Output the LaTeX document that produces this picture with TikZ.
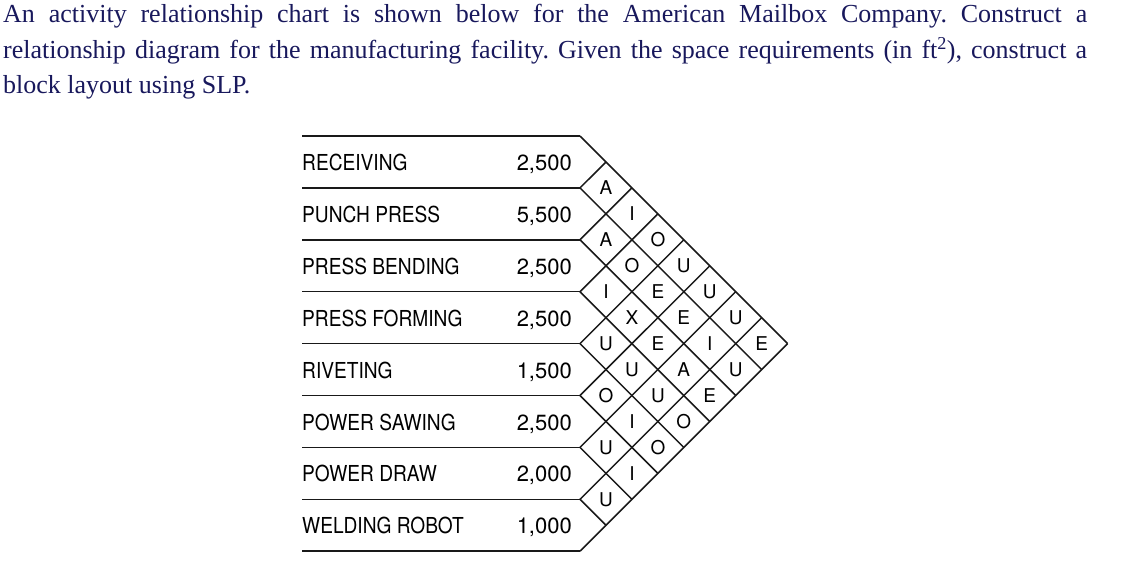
\documentclass[tikz,border=0pt]{standalone}
\usepackage{fontspec}
\usepackage{tikz}
\usetikzlibrary{positioning}
\newfontfamily\probfont{Liberation Serif}
\newfontfamily\actfont[FakeStretch=0.87]{TeX Gyre Heros}
\newfontfamily\relfont{TeX Gyre Heros}
\definecolor{ink}{RGB}{24,24,92}
\definecolor{rule}{RGB}{25,25,25}
\frenchspacing

\begin{document}
\begin{tikzpicture}[x=1pt,y=-1pt,
  probline/.style={anchor=base west,inner sep=0pt,text=ink,font=\probfont\fontsize{26}{30}\selectfont},
  actname/.style={anchor=base west,inner sep=0pt,font=\actfont\fontsize{22}{26}\selectfont},
  actarea/.style={anchor=base east,inner sep=0pt,font=\relfont\fontsize{22}{26}\selectfont},
  relcode/.style={inner sep=0pt,font=\relfont\fontsize{19}{22}\selectfont},
  grid/.style={draw=rule,line width=1.5pt}]
\useasboundingbox (0,0) rectangle (1127,572);
% Problem text
\node[probline] (line1) at (3,22.7) {\makebox[1084pt][s]{An activity relationship chart is shown below for the American Mailbox Company. Construct a}};
\node[probline] (line2) at (3,58.3) {\makebox[1084pt][s]{relationship diagram for the manufacturing facility. Given the space requirements (in ft\textsuperscript{2}), construct a}};
\node[probline] (line3) at (3,94) {block layout using SLP.};
% Rows
\draw[grid] (302,136.0) -- (580,136.0); % top line
\draw[grid] (302,187.9) -- (580,187.9);
\draw[grid] (302,239.8) -- (580,239.8);
\draw[grid] (302,291.7) -- (580,291.7);
\draw[grid] (302,343.6) -- (580,343.6);
\draw[grid] (302,395.5) -- (580,395.5);
\draw[grid] (302,447.4) -- (580,447.4);
\draw[grid] (302,499.3) -- (580,499.3);
\draw[grid] (302,551.2) -- (580,551.2); % bottom line
\node[actname] (recv) at (302,170.5) {RECEIVING};
\node[actarea] (recva) at (572,170.5) {2,500};
\node[actname] (punch) at (302,222.4) {PUNCH PRESS};
\node[actarea] (puncha) at (572,222.4) {5,500};
\node[actname] (bend) at (302,274.3) {PRESS BENDING};
\node[actarea] (benda) at (572,274.3) {2,500};
\node[actname] (form) at (302,326.2) {PRESS FORMING};
\node[actarea] (forma) at (572,326.2) {2,500};
\node[actname] (rivet) at (302,378.1) {RIVETING};
\node[actarea] (riveta) at (572,378.1) {1,500};
\node[actname] (saw) at (302,430.0) {POWER SAWING};
\node[actarea] (sawa) at (572,430.0) {2,500};
\node[actname] (draw) at (302,481.9) {POWER DRAW};
\node[actarea] (drawa) at (572,481.9) {2,000};
\node[actname] (weld) at (302,533.8) {WELDING ROBOT};
\node[actarea] (welda) at (572,533.8) {1,000};
% Diamonds, down-right lines
\draw[grid] (580,136.0) -- (787.6,343.6);
\draw[grid] (580,187.9) -- (761.7,369.6);
\draw[grid] (580,239.8) -- (735.7,395.5);
\draw[grid] (580,291.7) -- (709.8,421.5);
\draw[grid] (580,343.6) -- (683.8,447.4);
\draw[grid] (580,395.5) -- (657.9,473.4);
\draw[grid] (580,447.4) -- (631.9,499.3);
\draw[grid] (580,499.3) -- (606.0,525.3);
% Diamonds, up-right lines
\draw[grid] (580,187.9) -- (606.0,162.0);
\draw[grid] (580,239.8) -- (631.9,187.9);
\draw[grid] (580,291.7) -- (657.9,213.9);
\draw[grid] (580,343.6) -- (683.8,239.8);
\draw[grid] (580,395.5) -- (709.8,265.8);
\draw[grid] (580,447.4) -- (735.7,291.7);
\draw[grid] (580,499.3) -- (761.7,317.7);
\draw[grid] (580,551.2) -- (787.6,343.6);
% Codes
\node[relcode] (c12) at (606.0,187.9) {A};
\node[relcode] (c13) at (631.9,213.9) {I};
\node[relcode] (c23) at (606.0,239.8) {A};
\node[relcode] (c14) at (657.9,239.8) {O};
\node[relcode] (c24) at (631.9,265.8) {O};
\node[relcode] (c15) at (683.8,265.8) {U};
\node[relcode] (c34) at (606.0,291.7) {I};
\node[relcode] (c25) at (657.9,291.7) {E};
\node[relcode] (c16) at (709.8,291.7) {U};
\node[relcode] (c35) at (631.9,317.7) {X};
\node[relcode] (c26) at (683.8,317.7) {E};
\node[relcode] (c17) at (735.7,317.7) {U};
\node[relcode] (c45) at (606.0,343.6) {U};
\node[relcode] (c36) at (657.9,343.6) {E};
\node[relcode] (c27) at (709.8,343.6) {I};
\node[relcode] (c18) at (761.7,343.6) {E};
\node[relcode] (c46) at (631.9,369.6) {U};
\node[relcode] (c37) at (683.8,369.6) {A};
\node[relcode] (c28) at (735.7,369.6) {U};
\node[relcode] (c56) at (606.0,395.5) {O};
\node[relcode] (c47) at (657.9,395.5) {U};
\node[relcode] (c38) at (709.8,395.5) {E};
\node[relcode] (c57) at (631.9,421.5) {I};
\node[relcode] (c48) at (683.8,421.5) {O};
\node[relcode] (c67) at (606.0,447.4) {U};
\node[relcode] (c58) at (657.9,447.4) {O};
\node[relcode] (c68) at (631.9,473.4) {I};
\node[relcode] (c78) at (606.0,499.3) {U};
\end{tikzpicture}
\end{document}
